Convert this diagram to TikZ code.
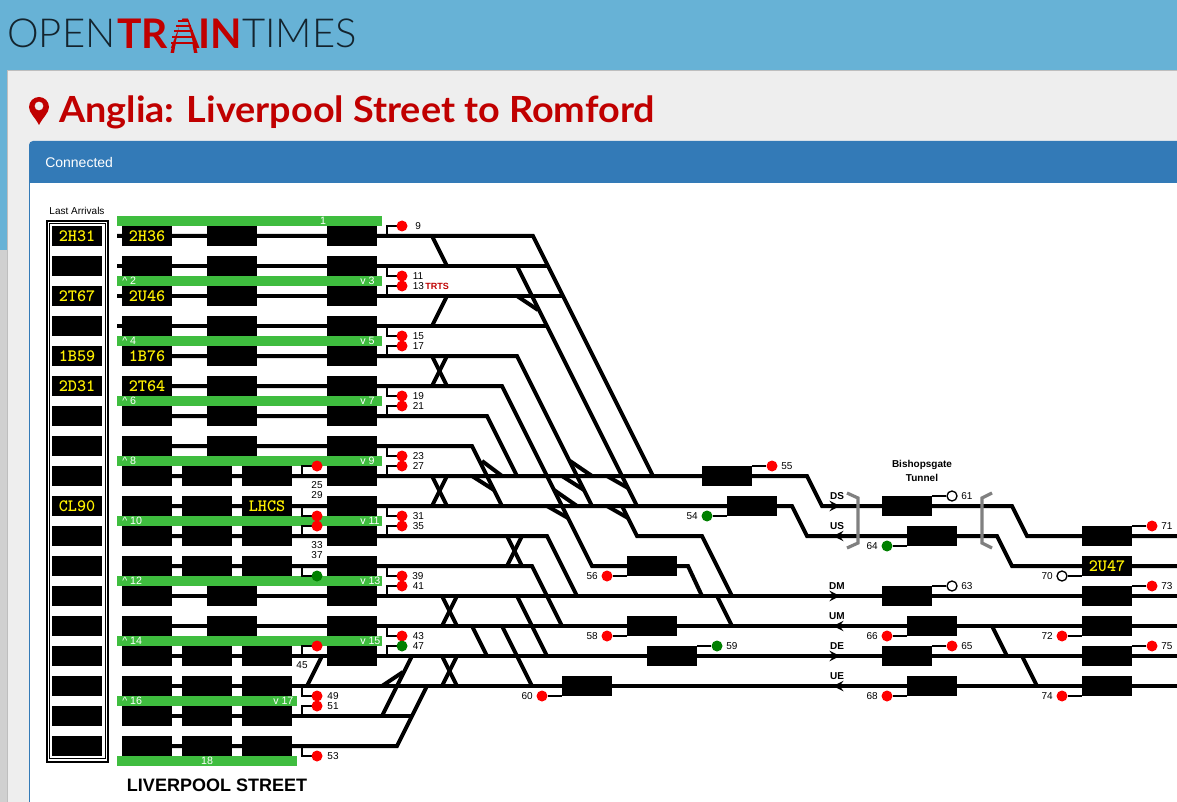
\documentclass[tikz,border=0pt]{standalone}
\usepackage{fontspec}
\setmainfont{Liberation Sans}
\newfontfamily\titlefont[FakeStretch=1.05]{Lato}
\newfontfamily\logofont{Lato}
\newfontfamily\logolightfont{Lato Light}
\definecolor{pageblue}{RGB}{103,178,214}
\definecolor{panelgrey}{RGB}{238,238,238}
\definecolor{edgegrey}{RGB}{190,190,190}
\definecolor{stripgrey}{RGB}{208,208,208}
\definecolor{headblue}{RGB}{51,122,183}
\definecolor{titlered}{RGB}{192,0,0}
\definecolor{logodark}{RGB}{20,36,46}
\definecolor{platgreen}{RGB}{63,189,63}
\definecolor{siggreen}{RGB}{0,128,0}
\begin{document}
\begin{tikzpicture}[x=0.75pt,y=-0.75pt,
    track/.style={line width=3pt,line join=miter},
    stem/.style={line width=1.5pt},
    dirtip/.style={line width=2.4pt,-stealth},
    bracket/.style={line width=2.4pt,draw=gray},
    block/.style={fill=black,inner sep=0pt,minimum width=37.5pt,minimum height=15pt},
    headcode/.style={inner sep=0pt,text=yellow,font=\ttfamily\bfseries\fontsize{13}{14}\selectfont},
    platform/.style={fill=platgreen,inner sep=0pt,minimum width=198.75pt,minimum height=7.5pt},
    shortplatform/.style={platform,minimum width=135pt},
    platlabel/.style={inner sep=0pt,text=white,font=\fontsize{8}{9}\selectfont},
    redsig/.style={circle,fill=red,inner sep=0pt,minimum size=8.25pt},
    greensig/.style={circle,fill=siggreen,inner sep=0pt,minimum size=8.25pt},
    whitesig/.style={circle,fill=white,draw=black,line width=1pt,inner sep=0pt,minimum size=7.5pt},
    numlabel/.style={inner sep=0pt,font=\fontsize{7.5}{9}\selectfont},
    linelabel/.style={inner sep=0pt,font=\bfseries\fontsize{7.5}{9}\selectfont}]
  \useasboundingbox (0,0) rectangle (1177,802);

  % Page behind the panel.
  \fill[pageblue] (0,0) rectangle (1177,802);
  \fill[stripgrey] (0,250) rectangle (8,802);
  \draw[edgegrey,fill=panelgrey] (7.5,70.5) rectangle (1180,805);
  \fill[headblue,rounded corners=3pt] (29,141) rectangle (1185,190);
  \fill[white] (30,183) rectangle (1177,802);
  \fill[headblue] (29,185) rectangle (30,802);
  \node[inner sep=0pt,anchor=west,text=white,font=\fontsize{10.5}{12}\selectfont] (connected) at (45,162) {Connected};

  % Logo.
  \node[inner sep=0pt,anchor=base west,text=logodark,font=\logolightfont\fontsize{30}{32}\selectfont] (logoopen) at (7,48) {OPEN};
  \node[inner sep=0pt,anchor=base west,text=titlered,font=\logofont\bfseries\fontsize{30.6}{32}\selectfont] (logotrain) at (117,49) {TR\kern2.5pt A\kern-1pt IN};
  \node[inner sep=0pt,anchor=base west,text=logodark,font=\logolightfont\fontsize{30}{32}\selectfont] (logotimes) at (242,48) {TIMES};

  % The A of the logo is a length of track.
  \fill[pageblue] (180,22) -- (188,22) -- (188.6,25) -- (179.4,25) -- cycle;
  \fill[pageblue] (179,27) -- (189,27) -- (189.8,30) -- (178.3,30) -- cycle;
  \fill[pageblue] (177.9,32) -- (190.3,32) -- (191.2,36) -- (177.1,36) -- cycle;
  \fill[pageblue] (176.7,38) -- (191.7,38) -- (192.7,42) -- (175.9,42) -- cycle;
  \fill[pageblue] (175.5,44) -- (193.2,44) -- (195,53) -- (174,53) -- cycle;
  \foreach \xa/\xb/\y in {178/189/20,176/191/25,174/193/30,172/195/36,171/197/42}
    \fill[titlered] (\xa,\y) rectangle (\xb,\y+2);
  \fill[titlered] (172.5,44) -- (175.5,44) -- (174,53) -- (170.5,53) -- cycle;
  \fill[titlered] (192.5,44) -- (195.5,44) -- (197.5,53) -- (194,53) -- cycle;

  % Title.
  \fill[titlered,even odd rule] (39,125) .. controls (35,117) and (29,113) .. (29,107)
    arc (180:360:10) .. controls (49,113) and (43,117) .. (39,125) -- cycle
    (43.5,106) arc (0:360:4.5);
  \node[inner sep=0pt,anchor=base west,text=titlered,font=\titlefont\bfseries\fontsize{27}{30}\selectfont] (title) at (59,122.5) {Anglia: Liverpool Street to Romford};

  % Last arrivals column.
  \node[numlabel] (lastarrivals) at (77,211) {Last Arrivals};
  \draw[line width=1.5pt] (47,220.75) rectangle (108,761.5);
  \draw[line width=1pt] (49.7,223.7) rectangle (105.5,758.4);
  \foreach \y/\code in {236/2H31,266/{},296/2T67,326/{},356/1B59,386/2D31,416/{},446/{},476/{},
      506/CL90,536/{},566/{},596/{},626/{},656/{},686/{},716/{},746/{}}
    \node[block,headcode] (a\y) at (77,\y) {\code};

  % Tracks leaving the platforms.
  \draw[track] (117,236) -- (533,236) -- (653,476);
  \draw[track] (117,266) -- (548,266);
  \draw[track] (117,296) -- (563,296);
  \draw[track] (117,326) -- (547,326);
  \draw[track] (122,356) -- (517,356) -- (592,506);
  \draw[track] (122,386) -- (502,386) -- (592,566) -- (688,566) -- (702,596);
  \draw[track] (122,416) -- (487,416) -- (517,476);
  \draw[track] (122,446) -- (472,446) -- (502,506);
  \draw[track] (122,476) -- (807,476) -- (822,506) -- (1012,506) -- (1027,536) -- (1177,536);
  \draw[track] (122,506) -- (792,506) -- (807,536) -- (997,536) -- (1012,566) -- (1177,566);
  \draw[track] (122,536) -- (547,536) -- (577,596);
  \draw[track] (122,566) -- (532,566) -- (562,626);
  \draw[track] (122,596) -- (1177,596);
  \draw[track] (122,626) -- (1177,626);
  \draw[track] (122,656) -- (1177,656);
  \draw[track] (122,686) -- (1177,686);
  \draw[track] (122,716) -- (412,716);
  \draw[track] (122,746) -- (397,746) -- (427,686);
  \draw[track] (517,266) -- (637,506);
  \draw[track] (622,506) -- (637,536) -- (702,536) -- (732,596);

  % Crossovers.
  \foreach \xa/\ya/\xb/\yb in {432/236/447/266,447/296/432/326,432/356/447/386,447/356/432/386,
      432/476/447/506,447/476/432/506,507/536/522/566,522/536/507/566,442/596/457/626,457/596/442/626,
      442/656/457/686,457/656/442/686,517/596/547/656,502/626/532/686,472/626/487/656,717/596/732/626,
      992/626/1007/656,1022/656/1037/686,322/656/307/686,412/656/382/716,403/672/382/686,
      517/296/538/310,482/461/502/476,472/476/494/490,570/461/592/476,562/476/584/490,
      554/490/577/506,547/506/568/518,607/476/628/488,607/506/628/518}
    \draw[track] (\xa,\ya) -- (\xb,\yb);

  % Direction of each line.
  \foreach \lab/\y/\xa/\xb in {DS/506/825/840,US/536/848/833,DM/596/825/840,UM/626/848/833,DE/656/825/840,UE/686/848/833}{
    \draw[dirtip] (\xa,\y) -- (\xb,\y);
    \node[linelabel] (line\lab) at (837,\y-10) {\lab};
  }

  % Tunnel.
  \draw[bracket] (847,493) -- (858,498) -- (858,543) -- (847,548);
  \draw[bracket] (992,493) -- (982,498) -- (982,543) -- (992,548);
  \node[linelabel] (tunnela) at (922,465) {Bishopsgate};
  \node[linelabel] (tunnelb) at (922,478) {Tunnel};

  % Platform blocks.
  \foreach \y in {236,266,...,446,596,626}
    \foreach \x in {147,232,352}
      \node[block] (b\x-\y) at (\x,\y) {};
  \foreach \y in {476,506,536,566,656}
    \foreach \x in {147,207,267,352}
      \node[block] (b\x-\y) at (\x,\y) {};
  \foreach \y in {686,716,746}
    \foreach \x in {147,207,267}
      \node[block] (b\x-\y) at (\x,\y) {};

  % Train descriptions on the platform blocks.
  \node[headcode] (t2H36) at (b147-236) {2H36};
  \node[headcode] (t2U46) at (b147-296) {2U46};
  \node[headcode] (t1B76) at (b147-356) {1B76};
  \node[headcode] (t2T64) at (b147-386) {2T64};
  \node[headcode] (tLHCS) at (b267-506) {LHCS};

  % Platforms.
  \node[platform] (p1) at (249.5,221) {};
  \node[platlabel] (n1) at (323,221) {1};
  \foreach \y/\up/\dn in {281/2/3,341/4/5,401/6/7,461/8/9,521/10/11,581/12/13,641/14/15}{
    \node[platform] (p\up) at (249.5,\y) {};
    \node[platlabel,anchor=west] (n\up) at (122,\y) {\textasciicircum\ \up};
    \node[platlabel,anchor=west] (n\dn) at (360,\y) {v \dn};
  }
  \node[shortplatform] (p16) at (207,701) {};
  \node[platlabel,anchor=west] (n16) at (122,701) {\textasciicircum\ 16};
  \node[platlabel,anchor=west] (n17) at (273,701) {v 17};
  \node[shortplatform] (p18) at (207,761) {};
  \node[platlabel] (n18) at (207,761) {18};

  % Signals at the platform ends.
  \foreach \num/\ys/\yt/\xl/\sig in {9/226/236/415/redsig,11/276/266/412.5/redsig,13/286/296/412.5/redsig,15/336/326/412.5/redsig,
      17/346/356/412.5/redsig,19/396/386/412.5/redsig,21/406/416/412.5/redsig,23/456/446/412.5/redsig,27/466/476/412.5/redsig,
      31/516/506/412.5/redsig,35/526/536/412.5/redsig,39/576/566/412/redsig,41/586/596/412.5/redsig,43/636/626/412.5/redsig,47/646/656/412.5/greensig}{
    \draw[stem] (402,\ys) -| (387,\yt);
    \node[\sig] (s\num) at (402,\ys) {};
    \node[numlabel,anchor=west] (l\num) at (\xl,\ys) {\num};
  }
  \node[inner sep=0pt,anchor=west,text=titlered,font=\bfseries\fontsize{6.75}{8}\selectfont] (trts) at (425,286) {TRTS};

  % Signals inside the long platforms.
  \foreach \num/\ys/\yt/\xl/\yl/\sig in {25/466/476/317/485/redsig,29/516/506/317/495/redsig,33/526/536/317/545/redsig,
      37/576/566/317/555/greensig,45/646/656/302/665/redsig,49/696/686/333/696/redsig,51/706/716/333/706/redsig,53/756/746/333/756/redsig}{
    \draw[stem] (317,\ys) -| (302,\yt);
    \node[\sig] (s\num) at (317,\ys) {};
    \node[numlabel] (l\num) at (\xl,\yl) {\num};
  }

  % Line signals, east and west of their blocks.
  \foreach \num/\xb/\yb/\sig in {55/727/476/redsig,59/672/656/greensig,61/907/506/whitesig,63/907/596/whitesig,
      65/907/656/redsig,71/1107/536/redsig,73/1107/596/redsig,75/1107/656/redsig}{
    \node[block] (b\num) at (\xb,\yb) {};
    \node[\sig] (s\num) at (\xb+45,\yb-10) {};
    \draw[stem] (s\num) -- (s\num -| b\num.east);
    \node[numlabel,anchor=west] (l\num) at (\xb+54,\yb-10) {\num};
  }
  \foreach \num/\xb/\yb/\sig in {54/752/506/greensig,56/652/566/redsig,58/652/626/redsig,60/587/686/redsig,
      64/932/536/greensig,66/932/626/redsig,68/932/686/redsig,70/1107/566/whitesig,72/1107/626/redsig,74/1107/686/redsig}{
    \node[block] (b\num) at (\xb,\yb) {};
    \node[\sig] (s\num) at (\xb-45,\yb+10) {};
    \draw[stem] (s\num) -- (s\num -| b\num.west);
    \node[numlabel,anchor=east] (l\num) at (\xb-54,\yb+10) {\num};
  }
  \node[headcode] (t2U47) at (b70) {2U47};

  % Station name.
  \node[inner sep=0pt,font=\bfseries\fontsize{13.5}{15}\selectfont] (station) at (217,785) {LIVERPOOL STREET};
\end{tikzpicture}
\end{document}
